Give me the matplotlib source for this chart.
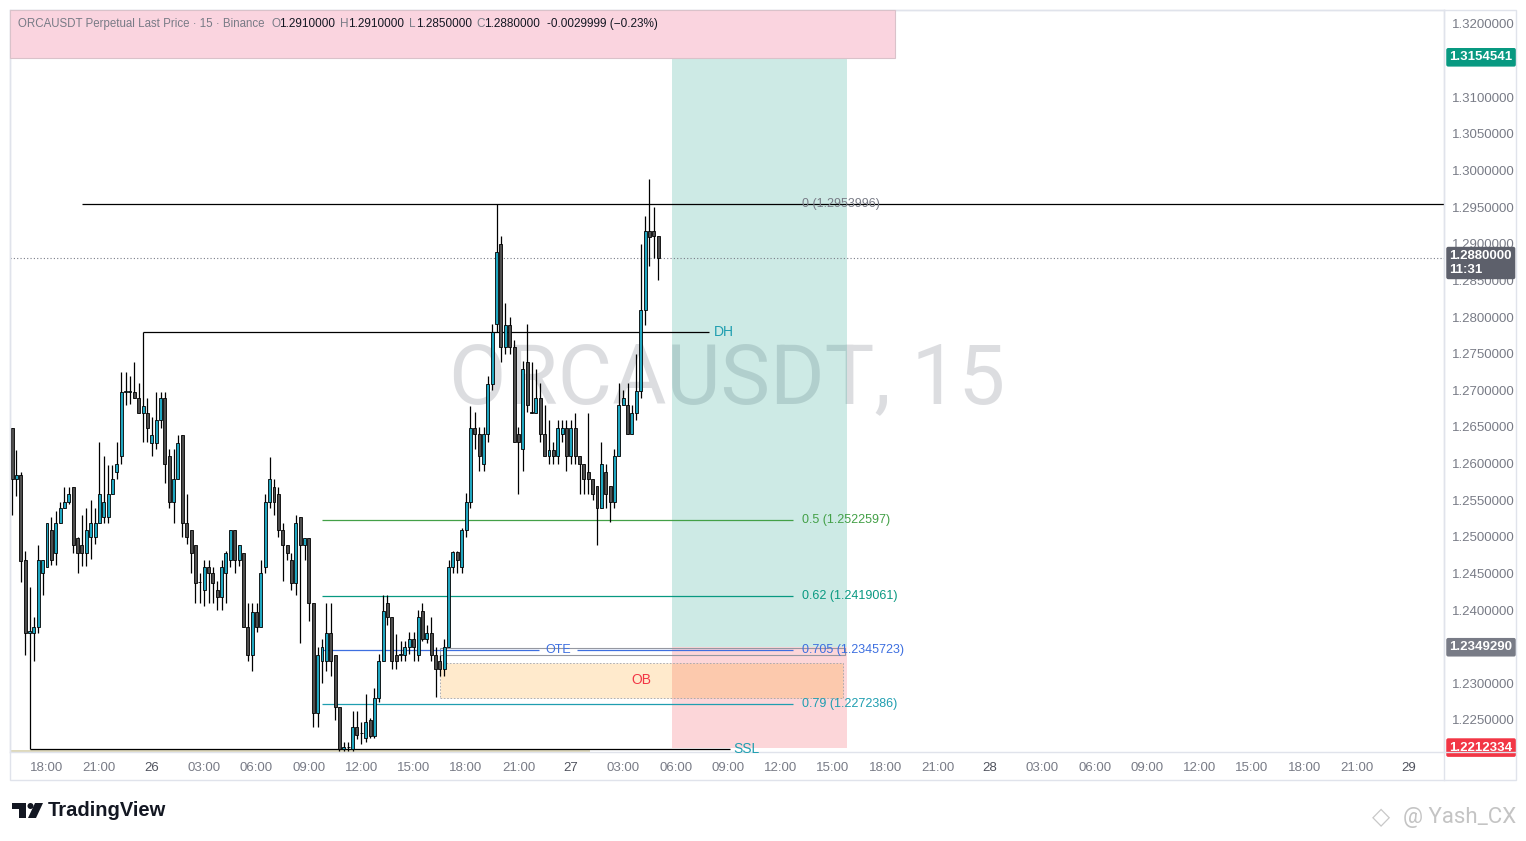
import matplotlib
matplotlib.use('Agg')
import matplotlib.pyplot as plt
from matplotlib.patches import Rectangle, Polygon, Ellipse
from matplotlib.lines import Line2D
import numpy as np

plt.rcParams['font.family'] = ['Liberation Sans', 'DejaVu Sans']

W, H = 1526, 841

# 15 minute candles, first one at 25th 16:00 (hours counted from 25th 00:00)
start_hour = 16.0
bar_hours = 0.25

opens = [1.2649, 1.2579, 1.2585, 1.2469, 1.2369, 1.2369, 1.2377, 1.2450, 1.2459, 1.2510,
         1.2478, 1.2519, 1.2539, 1.2548, 1.2568, 1.2498, 1.2489, 1.2478, 1.2500, 1.2500,
         1.2519, 1.2527, 1.2527, 1.2559, 1.2589, 1.2610, 1.2698, 1.2698, 1.2698, 1.2690,
         1.2669, 1.2669, 1.2628, 1.2628, 1.2659, 1.2690, 1.2610, 1.2548, 1.2579, 1.2639,
         1.2519, 1.2510, 1.2489, 1.2438, 1.2428, 1.2459, 1.2450, 1.2428, 1.2418, 1.2450,
         1.2469, 1.2510, 1.2469, 1.2478, 1.2377, 1.2339, 1.2398, 1.2377, 1.2459, 1.2548,
         1.2568, 1.2559, 1.2510, 1.2489, 1.2469, 1.2437, 1.2527, 1.2489, 1.2498, 1.2409,
         1.2259, 1.2330, 1.2330, 1.2369, 1.2339, 1.2268, 1.2210, 1.2213, 1.2210, 1.2240,
         1.2232, 1.2225, 1.2250, 1.2228, 1.2280, 1.2330, 1.2409, 1.2390, 1.2339, 1.2339,
         1.2339, 1.2349, 1.2360, 1.2339, 1.2399, 1.2360, 1.2369, 1.2339, 1.2330, 1.2319,
         1.2349, 1.2459, 1.2479, 1.2459, 1.2510, 1.2548, 1.2648, 1.2640, 1.2600, 1.2640,
         1.2709, 1.2790, 1.2900, 1.2759, 1.2789, 1.2759, 1.2640, 1.2620, 1.2739, 1.2670,
         1.2669, 1.2690, 1.2640, 1.2610, 1.2619, 1.2610, 1.2640, 1.2649, 1.2610, 1.2649,
         1.2610, 1.2600, 1.2588, 1.2579, 1.2569, 1.2540, 1.2588, 1.2569, 1.2548, 1.2610,
         1.2680, 1.2680, 1.2640, 1.2669, 1.2699, 1.2809, 1.2918, 1.2918, 1.2910]
highs = [1.2649, 1.2618, 1.2588, 1.2480, 1.2431, 1.2390, 1.2489, 1.2469, 1.2519, 1.2527,
         1.2535, 1.2548, 1.2568, 1.2568, 1.2568, 1.2500, 1.2530, 1.2539, 1.2550, 1.2539,
         1.2630, 1.2610, 1.2598, 1.2598, 1.2630, 1.2725, 1.2725, 1.2719, 1.2738, 1.2710,
         1.2779, 1.2690, 1.2663, 1.2698, 1.2698, 1.2698, 1.2620, 1.2620, 1.2639, 1.2639,
         1.2559, 1.2510, 1.2489, 1.2450, 1.2469, 1.2469, 1.2459, 1.2440, 1.2469, 1.2480,
         1.2510, 1.2510, 1.2489, 1.2478, 1.2410, 1.2410, 1.2410, 1.2469, 1.2559, 1.2609,
         1.2579, 1.2568, 1.2519, 1.2489, 1.2478, 1.2530, 1.2527, 1.2498, 1.2498, 1.2409,
         1.2350, 1.2360, 1.2410, 1.2410, 1.2339, 1.2268, 1.2220, 1.2220, 1.2262, 1.2262,
         1.2247, 1.2285, 1.2253, 1.2293, 1.2340, 1.2420, 1.2420, 1.2390, 1.2368, 1.2358,
         1.2358, 1.2370, 1.2370, 1.2400, 1.2410, 1.2380, 1.2390, 1.2349, 1.2339, 1.2360,
         1.2468, 1.2480, 1.2480, 1.2512, 1.2560, 1.2678, 1.2670, 1.2650, 1.2650, 1.2719,
         1.2790, 1.2954, 1.2910, 1.2819, 1.2800, 1.2769, 1.2650, 1.2740, 1.2790, 1.2739,
         1.2729, 1.2710, 1.2680, 1.2659, 1.2630, 1.2659, 1.2659, 1.2659, 1.2659, 1.2669,
         1.2610, 1.2600, 1.2669, 1.2579, 1.2569, 1.2629, 1.2600, 1.2569, 1.2620, 1.2710,
         1.2700, 1.2710, 1.2680, 1.2750, 1.2900, 1.2938, 1.2989, 1.2950, 1.2910]
lows = [1.2530, 1.2556, 1.2439, 1.2339, 1.2210, 1.2330, 1.2369, 1.2421, 1.2459, 1.2462,
        1.2462, 1.2519, 1.2539, 1.2545, 1.2478, 1.2450, 1.2460, 1.2460, 1.2470, 1.2490,
        1.2519, 1.2519, 1.2519, 1.2559, 1.2579, 1.2600, 1.2680, 1.2681, 1.2690, 1.2669,
        1.2630, 1.2629, 1.2610, 1.2620, 1.2649, 1.2573, 1.2540, 1.2519, 1.2579, 1.2500,
        1.2490, 1.2450, 1.2409, 1.2409, 1.2405, 1.2409, 1.2409, 1.2400, 1.2400, 1.2409,
        1.2459, 1.2450, 1.2460, 1.2377, 1.2330, 1.2317, 1.2370, 1.2377, 1.2450, 1.2540,
        1.2530, 1.2500, 1.2440, 1.2469, 1.2428, 1.2420, 1.2355, 1.2469, 1.2385, 1.2241,
        1.2241, 1.2300, 1.2317, 1.2310, 1.2250, 1.2207, 1.2207, 1.2207, 1.2207, 1.2224,
        1.2217, 1.2220, 1.2225, 1.2225, 1.2275, 1.2330, 1.2380, 1.2319, 1.2319, 1.2330,
        1.2330, 1.2340, 1.2330, 1.2330, 1.2358, 1.2355, 1.2330, 1.2281, 1.2310, 1.2310,
        1.2349, 1.2450, 1.2450, 1.2450, 1.2500, 1.2540, 1.2620, 1.2590, 1.2590, 1.2630,
        1.2700, 1.2780, 1.2739, 1.2749, 1.2749, 1.2630, 1.2559, 1.2590, 1.2670, 1.2669,
        1.2669, 1.2629, 1.2610, 1.2600, 1.2600, 1.2600, 1.2630, 1.2590, 1.2600, 1.2600,
        1.2559, 1.2559, 1.2559, 1.2550, 1.2489, 1.2540, 1.2540, 1.2520, 1.2540, 1.2610,
        1.2680, 1.2640, 1.2640, 1.2660, 1.2690, 1.2789, 1.2870, 1.2880, 1.2850]
closes = [1.2579, 1.2585, 1.2467, 1.2369, 1.2372, 1.2377, 1.2469, 1.2469, 1.2519, 1.2469,
          1.2519, 1.2539, 1.2548, 1.2559, 1.2489, 1.2478, 1.2478, 1.2510, 1.2519, 1.2519,
          1.2559, 1.2548, 1.2559, 1.2579, 1.2600, 1.2698, 1.2698, 1.2698, 1.2690, 1.2669,
          1.2678, 1.2649, 1.2639, 1.2659, 1.2690, 1.2600, 1.2548, 1.2579, 1.2628, 1.2519,
          1.2500, 1.2478, 1.2437, 1.2438, 1.2459, 1.2450, 1.2437, 1.2418, 1.2459, 1.2478,
          1.2510, 1.2469, 1.2489, 1.2377, 1.2339, 1.2398, 1.2377, 1.2450, 1.2548, 1.2579,
          1.2548, 1.2510, 1.2489, 1.2478, 1.2437, 1.2519, 1.2489, 1.2498, 1.2409, 1.2259,
          1.2339, 1.2350, 1.2369, 1.2330, 1.2268, 1.2210, 1.2213, 1.2213, 1.2240, 1.2230,
          1.2232, 1.2247, 1.2228, 1.2280, 1.2330, 1.2399, 1.2390, 1.2330, 1.2330, 1.2339,
          1.2349, 1.2360, 1.2349, 1.2390, 1.2360, 1.2369, 1.2339, 1.2319, 1.2319, 1.2349,
          1.2459, 1.2479, 1.2469, 1.2510, 1.2548, 1.2648, 1.2640, 1.2610, 1.2640, 1.2709,
          1.2779, 1.2889, 1.2759, 1.2789, 1.2759, 1.2630, 1.2630, 1.2729, 1.2680, 1.2669,
          1.2690, 1.2640, 1.2610, 1.2619, 1.2610, 1.2649, 1.2649, 1.2610, 1.2649, 1.2610,
          1.2600, 1.2579, 1.2579, 1.2559, 1.2540, 1.2600, 1.2559, 1.2548, 1.2610, 1.2680,
          1.2689, 1.2640, 1.2669, 1.2699, 1.2809, 1.2918, 1.2909, 1.2910, 1.2880]

# drawings on the chart
fib_ratios = [0, 0.5, 0.62, 0.705, 0.79]
fib_prices = [1.2953996, 1.2522597, 1.2419061, 1.2345723, 1.2272386]
fib_colors = ['#787b86', '#43a047', '#089981', '#3d6fe0', '#1f9eb0']
dh_price = 1.2780
ssl_price = 1.2210
last_price = 1.2880
target_price = 1.3154541
entry_price = 1.2349290
stop_price = 1.2212334
ob_top, ob_bottom = 1.2328, 1.2280
ote_top, ote_bottom = 1.2348, 1.2339

x_ticks = list(range(18, 97, 3))
x_labels = [str(25 + h // 24) if h % 24 == 0 else '%02d:00' % (h % 24) for h in x_ticks]
y_ticks = np.arange(1.225, 1.32001, 0.005)
hidden_ticks = [1.315, 1.235]  # covered by price badges

header_name = 'ORCAUSDT Perpetual Last Price · 15 · Binance'
header_ohlc = [('O', '1.2910000'), ('H', '1.2910000'), ('L', '1.2850000'), ('C', '1.2880000')]
header_change = '-0.0029999 (\u22120.23%)'

grey = '#787b86'
border = '#e0e3eb'


def fpx(x, y):
    return (x / W, 1 - y / H)


fig = plt.figure(figsize=(W / 100, H / 100), dpi=100)
fig.patch.set_facecolor('white')
ax = fig.add_axes([10 / W, 1 - 752 / H, 1434 / W, 742 / H])
ax.set_xlim(15.88, 98.01)
ax.set_ylim(1.22063, 1.32191)
for s in ax.spines.values():
    s.set_color(border)
    s.set_linewidth(1)

# candles
o = np.array(opens); h = np.array(highs); l = np.array(lows); c = np.array(closes)
t = start_hour + np.arange(len(o)) * bar_hours
up = c >= o
body = np.maximum(np.abs(c - o), 0.00004)
ax.vlines(t, l, h, color='black', lw=0.9, zorder=4)
ax.bar(t[up], body[up], bottom=np.minimum(o, c)[up], width=0.17, color='#1fa6c0',
       edgecolor='black', linewidth=0.6, zorder=5)
ax.bar(t[~up], body[~up], bottom=np.minimum(o, c)[~up], width=0.17, color='#4d4d4d',
       edgecolor='black', linewidth=0.6, zorder=5)

# watermark
ax.text(56.95, 1.2714, 'ORCAUSDT, 15', fontsize=60, family=['Roboto', 'DejaVu Sans'],
        color='#9598a1', alpha=0.32, ha='center', va='center', zorder=0.5)

# long position box
ax.add_patch(Rectangle((53.8, entry_price), 10.0, target_price - entry_price,
                       facecolor='#089981', alpha=0.2, lw=0, zorder=1))
ax.add_patch(Rectangle((53.8, stop_price), 10.0, entry_price - stop_price,
                       facecolor='#f23645', alpha=0.2, lw=0, zorder=1))

# order block and OTE zone
ax.add_patch(Rectangle((40.5, ob_bottom), 23.1, ob_top - ob_bottom,
                       facecolor=(1, 0.596, 0, 0.2), edgecolor='#a0a3ab', lw=0.6,
                       ls=(0, (2, 2)), zorder=2))
ax.text(52.05, (ob_top + ob_bottom) / 2, 'OB', color='#f23645', fontsize=10,
        ha='center', va='center', zorder=6)
ax.add_patch(Rectangle((40.5, ote_bottom), 23.2, ote_top - ote_bottom,
                       facecolor='none', edgecolor='#9598a1', lw=0.8, zorder=2))

# fib retracement
for r, p, col in zip(fib_ratios, fib_prices, fib_colors):
    if r == 0:
        ax.hlines(p, 20.0, 98.01, color='black', lw=0.9, zorder=3)
    elif r == 0.705:
        ax.hlines(p, 33.75, 46.2, color=col, lw=0.9, zorder=3)
        ax.hlines(p, 48.35, 60.73, color=col, lw=0.9, zorder=3)
        ax.text(47.27, p, 'OTE', color=col, fontsize=9, ha='center', va='center', zorder=6)
    else:
        ax.hlines(p, 33.75, 60.73, color=col, lw=0.9, zorder=3)
    lab = '%g (%.7f)' % (r, p)
    ax.text(61.24, p, lab, color=col, fontsize=9, ha='left', va='center', zorder=6)

# DH / SSL
ax.hlines(dh_price, 23.5, 55.9, color='black', lw=0.9, zorder=3)
ax.text(56.2, dh_price, 'DH', color='#1f9eb0', fontsize=10, ha='left', va='center')
ax.hlines(ssl_price, 17.0, 57.1, color='black', lw=0.9, zorder=3)
ax.text(57.3, ssl_price, 'SSL', color='#1f9eb0', fontsize=10, ha='left', va='center')
ax.hlines(1.22075, 15.88, 49.1, color='#d8d2ae', lw=1.2, zorder=2)

# last price line
ax.axhline(last_price, color='#787b86', ls=(0, (1, 2)), lw=0.8, zorder=3)

# axes ticks
ax.yaxis.tick_right()
ax.set_yticks(y_ticks)
ax.set_yticklabels(['' if any(abs(v - hv) < 1e-6 for hv in hidden_ticks) else '%.7f' % v
                    for v in y_ticks])
ax.tick_params(axis='y', length=0, pad=5.5, labelsize=9.5, labelcolor=grey)
ax.set_xticks(x_ticks)
ax.set_xticklabels(x_labels)
ax.tick_params(axis='x', length=0, pad=7, labelsize=9.5, labelcolor=grey)
for lab, h_ in zip(ax.get_xticklabels(), x_ticks):
    if h_ % 24 == 0:
        lab.set_color('#50535e')

# price badges on the scale
def badge(price, text, bg, dy=0, va='center'):
    ax.annotate(text, xy=(1.0, price), xycoords=('axes fraction', 'data'),
                xytext=(4, dy), textcoords='offset points', ha='left', va=va,
                fontsize=9.5, color='white', fontweight='bold', annotation_clip=False,
                bbox=dict(boxstyle='round,pad=0.25,rounding_size=0.15', fc=bg, ec='none'),
                zorder=10)

badge(target_price, '%.7f' % target_price, '#089981')
badge(entry_price, '%.7f' % entry_price, '#787b86')
badge(stop_price, '%.7f' % stop_price, '#f23645')
badge(last_price, '%.7f\n11:31' % last_price, '#5d606b', dy=6, va='top')

# frame of the price and time scales
fig.add_artist(Rectangle(fpx(10, 780), 1506 / W, 770 / H, transform=fig.transFigure,
                         fill=False, edgecolor=border, lw=1))
fig.add_artist(Line2D([1444 / W, 1444 / W], [fpx(0, 780)[1], fpx(0, 10)[1]],
                      color=border, lw=1))
fig.add_artist(Line2D([1444 / W, 1516 / W], [fpx(0, 752)[1]] * 2, color=border, lw=1))

# legend header
fig.add_artist(Rectangle(fpx(10, 58), 885 / W, 48 / H, transform=fig.transFigure,
                         facecolor='#fad4df', edgecolor='#d9c2ca', lw=0.8, zorder=20))
hy = fpx(0, 24)[1]
fig.text(18 / W, hy, header_name, fontsize=8.3, color=grey, va='center', zorder=21)
for (k, v), xk, xv in zip(header_ohlc, [271, 340, 409, 476], [279, 348, 416, 484]):
    fig.text(xk / W, hy, k, fontsize=8.5, color=grey, va='center', zorder=21)
    fig.text(xv / W, hy, v, fontsize=8.5, color='#131722', va='center', zorder=21)
fig.text(547 / W, hy, header_change, fontsize=8.5, color='#131722', va='center', zorder=21)

# TradingView logo
fig.add_artist(Polygon([fpx(12, 803), fpx(26, 803), fpx(26, 818), fpx(19, 818),
                        fpx(19, 809), fpx(12, 809)], closed=True, transform=fig.transFigure,
                       facecolor='#131722', edgecolor='none'))
fig.add_artist(Ellipse(fpx(30.5, 806), 6 / W, 6 / H, transform=fig.transFigure,
                       facecolor='#131722', edgecolor='none'))
fig.add_artist(Polygon([fpx(35, 803), fpx(43, 803), fpx(36, 818), fpx(28, 818)],
                       closed=True, transform=fig.transFigure,
                       facecolor='#131722', edgecolor='none'))
fig.text(48 / W, fpx(0, 811)[1], 'TradingView', fontsize=14.5, fontweight='bold',
         color='#131722', va='center')

# author watermark
fig.text(1381 / W, fpx(0, 817)[1], '\u25c7', fontsize=17, color='#c8c8c8',
         ha='center', va='center', family=['DejaVu Sans'])
fig.text(1516 / W, fpx(0, 817)[1], '@ Yash_CX', fontsize=16, color='#c4c4c4',
         ha='right', va='center', family=['Roboto', 'DejaVu Sans'])

fig.savefig('out.png', dpi=100, facecolor='white')
